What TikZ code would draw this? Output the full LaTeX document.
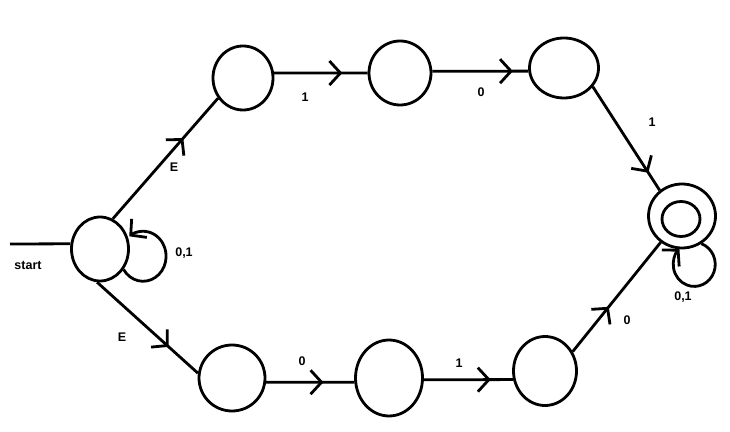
\documentclass[tikz,border=0pt]{standalone}
\usepackage{fontspec}
\setmainfont{Liberation Sans}
\usetikzlibrary{shapes.geometric,arrows.meta,decorations.markings}
\tikzset{
  st/.style={ellipse, draw, line width=2.8pt, inner sep=0pt},
  ln/.style={line width=2.8pt},
  midarrow/.style={postaction={decorate, decoration={markings,
      mark=at position #1 with {\arrow[line width=2.8pt]{Straight Barb[length=11pt,width=24pt]}}}}},
  lbl/.style={font=\fontsize{12.5}{14}\selectfont\bfseries, inner sep=0pt}
}
\begin{document}
\begin{tikzpicture}[x=1pt,y=1pt]
\useasboundingbox (0,0) rectangle (730,431);
% states
\node[st, minimum width=57pt, minimum height=64pt] (q0) at (100,182) {};
\node[st, minimum width=60pt, minimum height=64pt] (q1) at (243,353) {};
\node[st, minimum width=62pt, minimum height=64pt] (q2) at (400,358) {};
\node[st, minimum width=69pt, minimum height=60pt] (q3) at (564,363) {};
\node[st, minimum width=67pt, minimum height=64pt] (q4) at (682,215) {};
\node[st, minimum width=38pt, minimum height=35pt] (q4i) at (681,212) {};
\node[st, minimum width=66pt, minimum height=66pt] (q5) at (232,53) {};
\node[st, minimum width=67pt, minimum height=76pt] (q6) at (389,53) {};
\node[st, minimum width=63pt, minimum height=69pt] (q7) at (545,60) {};
% start
\coordinate (s) at (10,187);
\draw[ln] (s) -- (q0.170);
% transitions
\draw[ln, midarrow=0.67] (q0.67) -- (q1.219);
\draw[ln, midarrow=0.73] (q1.9) -- (q2.180);
\draw[ln, midarrow=0.84] (q2.3) -- (q3.185);
\draw[ln, midarrow=0.83] (q3.-33) -- (q4.131);
\draw[ln, midarrow=0.71] (q0.-95) -- (q5.172);
\draw[ln, midarrow=0.65] (q5.-7) -- (q6.187);
\draw[ln, midarrow=0.75] (q6.-3) -- (q7.195);
\draw[ln, midarrow=0.41] (q7.35) -- (q4.231);
% loops
\draw[ln, -{Straight Barb[length=11pt,width=24pt]}] (q0.-41) arc[start angle=212, end angle=487, x radius=23, y radius=25];
\draw[ln, -{Straight Barb[length=11pt,width=24pt]}] (q4.-55) arc[start angle=70, end angle=-225, x radius=21, y radius=22];
% labels
\node[lbl] (lstart) at (28,166) {start};
\node[lbl] (l01a) at (184,178) {0,1};
\node[lbl] (lE1) at (174,264) {E};
\node[lbl] (l1a) at (305,334) {1};
\node[lbl] (l0a) at (481,339) {0};
\node[lbl] (l1b) at (652,309) {1};
\node[lbl] (l01b) at (683,134) {0,1};
\node[lbl] (lE2) at (122,94) {E};
\node[lbl] (l0b) at (302,70) {0};
\node[lbl] (l1c) at (459,68) {1};
\node[lbl] (l0c) at (627,111) {0};
\end{tikzpicture}
\end{document}
